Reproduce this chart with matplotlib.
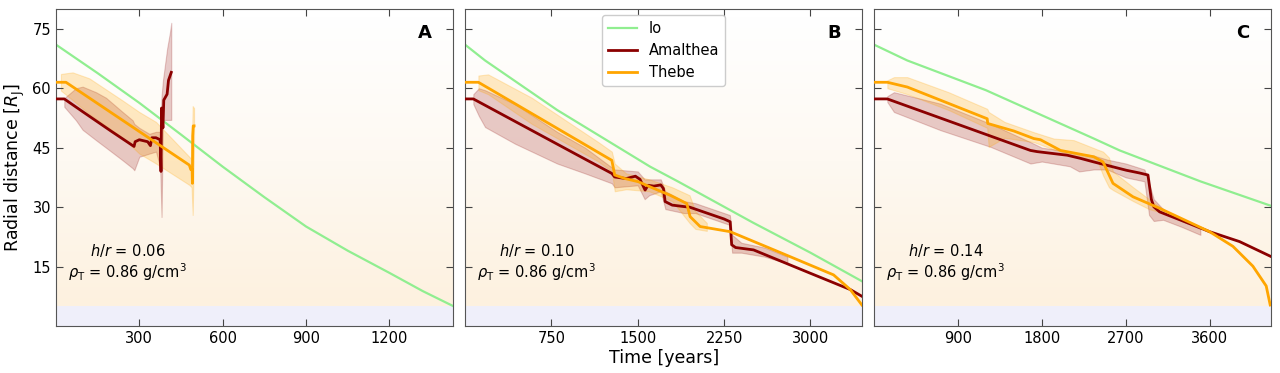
import numpy as np
import matplotlib
matplotlib.use('Agg')
import matplotlib.pyplot as plt
from matplotlib.colors import LinearSegmentedColormap

# Cores
cor_io = '#90EE90'
cor_amalthea = '#8B0000'
cor_thebe = '#FFA500'

# ---------------- Painel A (h/r = 0.06) ----------------
io_t_a = [0, 150, 300, 450, 600, 750, 900, 1050, 1200, 1320, 1430]
io_r_a = [71, 63.8, 56.3, 48.3, 40.2, 32.5, 25.1, 19.0, 13.4, 8.8, 5.0]

am_t_a = [0, 30, 100, 200, 281, 285, 300, 330, 340, 345, 360, 375, 378, 380, 385, 388, 400, 405, 415]
am_r_a = [57.3, 57.3, 53.9, 49.1, 45.3, 46.5, 47.0, 46.5, 45.5, 47.5, 47.5, 47.0, 39.0, 55.0, 50.0, 57.0, 58.5, 62.0, 64.0]
am_bt_a = [30, 72, 96, 144, 180, 240, 276, 282, 300, 336, 360, 375, 380, 385, 400, 410, 415]
am_lo_a = [55.3, 51.9, 49.5, 46.9, 45.0, 41.8, 39.8, 39.3, 42.7, 43.5, 44.0, 40.0, 27.5, 52.0, 52.0, 52.0, 52.0]
am_hi_a = [57.5, 60.0, 60.4, 59.0, 57.6, 54.0, 51.9, 51.0, 50.0, 48.5, 49.0, 49.0, 58.0, 62.0, 70.0, 74.0, 76.5]

th_t_a = [0, 36, 480, 485, 490, 491, 492, 494, 497]
th_r_a = [61.5, 61.5, 40.6, 39.5, 39.5, 36.0, 48.0, 50.5, 50.5]
th_bt_a = [18, 60, 120, 240, 300, 360, 480, 488, 492, 497]
th_lo_a = [59.4, 57.0, 53.5, 47.5, 43.5, 41.0, 35.6, 35.0, 28.0, 46.0]
th_hi_a = [63.6, 64.0, 62.5, 56.9, 54.0, 51.5, 42.7, 42.0, 55.5, 55.0]

# ---------------- Painel B (h/r = 0.10) ----------------
io_t_b = [0, 174, 800, 1608, 1854, 2500, 3000, 3447]
io_r_b = [71, 67.0, 54.5, 40.2, 36.4, 26.1, 18.5, 11.3]

am_t_b = [0, 72, 500, 1043, 1275, 1300, 1400, 1480, 1520, 1564, 1590, 1640, 1700, 1723, 1738,
          1800, 1912, 1950, 2100, 2250, 2303, 2316, 2350, 2506, 3000, 3346, 3447]
am_r_b = [57.3, 57.3, 50.6, 42.1, 38.5, 37.6, 37.2, 37.8, 37.0, 34.3, 35.5, 35.3, 35.6, 34.7, 31.4,
          30.5, 30.1, 30.0, 28.5, 27.0, 26.3, 20.5, 19.8, 19.2, 13.3, 9.2, 7.5]
am_bt_b = [72, 120, 174, 434, 800, 1043, 1275, 1300, 1500, 1560, 1600, 1700, 1740, 1900, 2000,
           2300, 2320, 2400, 2600, 2800]
am_lo_b = [56.0, 53.0, 50.2, 46.0, 41.0, 38.5, 36.0, 35.0, 35.5, 32.0, 33.0, 34.0, 29.5, 28.5, 28.5,
           25.5, 18.5, 18.5, 17.5, 15.8]
am_hi_b = [58.5, 60.0, 59.5, 56.0, 49.0, 45.0, 40.0, 39.5, 39.0, 37.0, 37.0, 37.0, 34.0, 31.5, 31.0,
           28.0, 23.0, 21.0, 19.8, 17.5]

th_t_b = [0, 116, 1275, 1300, 1390, 1506, 1608, 1781, 1926, 1955, 2042, 2303, 2700, 3201, 3346, 3447]
th_r_b = [61.5, 61.5, 41.8, 38.1, 37.2, 36.4, 35.1, 33.0, 30.9, 27.6, 25.1, 23.8, 19.0, 12.9, 9.2, 5.3]
th_bt_b = [116, 200, 580, 1158, 1275, 1300, 1400, 1600, 1800, 1950, 2000, 2100]
th_lo_b = [59.5, 58.5, 51.0, 41.5, 39.0, 34.0, 34.5, 34.0, 31.5, 26.0, 24.5, 24.0]
th_hi_b = [63.2, 63.5, 57.6, 46.4, 44.0, 41.0, 38.5, 37.0, 35.0, 33.0, 29.0, 26.0]

# ---------------- Painel C (h/r = 0.14) ----------------
io_t_c = [0, 357, 1200, 2357, 2635, 3500, 4260]
io_r_c = [71, 67.0, 59.5, 47.3, 44.3, 36.5, 30.3]

am_t_c = [0, 143, 1678, 1750, 2071, 2214, 2357, 2706, 2850, 2938, 2974, 3000, 3063, 3420, 3599, 3920, 4260]
am_r_c = [57.3, 57.3, 44.3, 44.0, 43.1, 42.3, 41.4, 39.3, 38.6, 38.1, 32.0, 30.1, 28.8, 25.5, 23.8, 21.3, 17.5]
am_bt_c = [143, 214, 714, 1250, 1678, 1800, 2100, 2200, 2357, 2500, 2700, 2900, 2950, 3000, 3100, 3300, 3500]
am_lo_c = [56.5, 54.0, 49.4, 45.2, 41.0, 41.5, 40.3, 39.0, 39.5, 39.5, 37.5, 36.5, 28.0, 26.5, 26.8, 25.0, 23.0]
am_hi_c = [58.0, 59.0, 56.1, 51.0, 46.4, 45.0, 44.0, 43.5, 43.0, 42.0, 41.0, 39.5, 36.0, 32.0, 29.5, 26.5, 24.5]

th_t_c = [0, 143, 357, 1214, 1220, 1500, 1714, 1785, 2000, 2357, 2456, 2563, 2778, 3063, 3599, 3849, 4063, 4206, 4249]
th_r_c = [61.5, 61.5, 60.3, 52.3, 51.1, 49.2, 47.3, 47.0, 44.3, 42.7, 41.4, 36.0, 32.6, 29.7, 23.8, 20.1, 15.1, 10.1, 5.3]
th_bt_c = [143, 214, 357, 800, 1214, 1230, 1400, 1714, 1928, 2142, 2400, 2456, 2520, 2563, 2780, 2950, 3100]
th_lo_c = [60.0, 59.5, 58.5, 54.5, 50.0, 45.2, 47.5, 46.4, 44.5, 43.0, 41.5, 38.0, 35.0, 34.3, 31.5, 29.5, 28.5]
th_hi_c = [62.0, 62.8, 62.8, 59.0, 54.8, 54.0, 51.5, 48.9, 47.3, 46.9, 44.5, 44.0, 42.5, 39.0, 35.0, 32.0, 29.5]

paineis = [
    dict(letra='A', hr='0.06', xmax=1430, xticks=[300, 600, 900, 1200],
         io=(io_t_a, io_r_a), am=(am_t_a, am_r_a), amb=(am_bt_a, am_lo_a, am_hi_a),
         th=(th_t_a, th_r_a), thb=(th_bt_a, th_lo_a, th_hi_a)),
    dict(letra='B', hr='0.10', xmax=3452, xticks=[750, 1500, 2250, 3000],
         io=(io_t_b, io_r_b), am=(am_t_b, am_r_b), amb=(am_bt_b, am_lo_b, am_hi_b),
         th=(th_t_b, th_r_b), thb=(th_bt_b, th_lo_b, th_hi_b)),
    dict(letra='C', hr='0.14', xmax=4262, xticks=[900, 1800, 2700, 3600],
         io=(io_t_c, io_r_c), am=(am_t_c, am_r_c), amb=(am_bt_c, am_lo_c, am_hi_c),
         th=(th_t_c, th_r_c), thb=(th_bt_c, th_lo_c, th_hi_c)),
]

fig = plt.figure(figsize=(12.8, 3.73), dpi=100)
largura = 0.3105
esquerdas = [0.0437, 0.3633, 0.6828]
fundo = LinearSegmentedColormap.from_list('fundo', ['#FDF1DF', '#FEF9F2', '#FFFFFF'])
gradiente = np.linspace(0, 1, 256).reshape(-1, 1)

for i, p in enumerate(paineis):
    ax = fig.add_axes([esquerdas[i], 0.126, largura, 0.85])

    # fundo em degradê e faixa azul inferior
    ax.imshow(gradiente, extent=[0, p['xmax'], 5, 78], aspect='auto',
              cmap=fundo, origin='lower', zorder=0)
    ax.axhspan(0, 5, color='#EFEFFA', zorder=0.5, lw=0)
    ax.set_xlim(0, p['xmax'])
    ax.set_ylim(0, 80)

    bt, lo, hi = p['amb']
    ax.fill_between(bt, lo, hi, color=cor_amalthea, alpha=0.2, lw=0.8, zorder=1)
    bt, lo, hi = p['thb']
    ax.fill_between(bt, lo, hi, color=cor_thebe, alpha=0.22, lw=0.8, zorder=1)

    ax.plot(*p['io'], color=cor_io, lw=1.6, label='Io', zorder=2)
    ax.plot(*p['am'], color=cor_amalthea, lw=2.0, label='Amalthea', zorder=3)
    ax.plot(*p['th'], color=cor_thebe, lw=2.0, label='Thebe', zorder=4)

    ax.set_xticks(p['xticks'])
    ax.set_yticks([15, 30, 45, 60, 75])
    ax.tick_params(direction='in', top=True, right=True, length=5, labelsize=10.5,
                   color='#444444')
    for s in ax.spines.values():
        s.set_color('#555555')
    if i > 0:
        ax.set_yticklabels([])
    else:
        ax.set_ylabel(r'Radial distance [$R_\mathrm{J}$]', fontsize=12.5)
    if i == 1:
        ax.set_xlabel('Time [years]', fontsize=12.5, labelpad=2)
        ax.legend(loc='upper center', fontsize=10.5, framealpha=1, borderaxespad=0.4)

    ax.text(0.928, 0.925, p['letra'], transform=ax.transAxes, fontsize=13,
            fontweight='bold', ha='center', va='center')
    ax.text(0.18, 0.2, '$h/r$ = ' + p['hr'] + '\n' + r'$\rho_\mathrm{T}$ = 0.86 g/cm$^3$',
            transform=ax.transAxes, fontsize=10.5, ha='center', va='center',
            multialignment='center', linespacing=1.15)

plt.savefig('out.png', dpi=100)
